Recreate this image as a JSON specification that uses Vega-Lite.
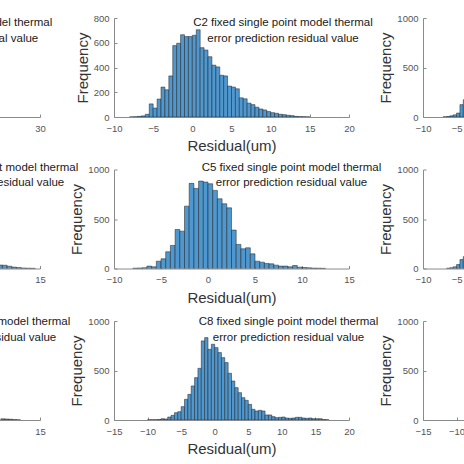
{
  "$schema": "https://vega.github.io/schema/vega-lite/v6.json",
  "background": "white",
  "autosize": {"type": "none"},
  "padding": {"left": -195, "top": 18, "right": 659, "bottom": 446},
  "bounds": "flush",
  "spacing": {"row": 52.5, "column": 74},
  "columns": 3,
  "data": {"values": [
    {"panel":"C2","start":-8,"end":-7.5,"count":1},{"panel":"C2","start":-7.5,"end":-7,"count":2},{"panel":"C2","start":-7,"end":-6.5,"count":5},{"panel":"C2","start":-6.5,"end":-6,"count":9},{"panel":"C2","start":-6,"end":-5.5,"count":22},{"panel":"C2","start":-5.5,"end":-5,"count":106},{"panel":"C2","start":-5,"end":-4.5,"count":72},{"panel":"C2","start":-4.5,"end":-4,"count":145},{"panel":"C2","start":-4,"end":-3.5,"count":242},{"panel":"C2","start":-3.5,"end":-3,"count":220},{"panel":"C2","start":-3,"end":-2.5,"count":332},{"panel":"C2","start":-2.5,"end":-2,"count":577},{"panel":"C2","start":-2,"end":-1.5,"count":596},{"panel":"C2","start":-1.5,"end":-1,"count":665},{"panel":"C2","start":-1,"end":-0.5,"count":650},{"panel":"C2","start":-0.5,"end":0,"count":650},{"panel":"C2","start":0,"end":0.5,"count":660},{"panel":"C2","start":0.5,"end":1,"count":705},{"panel":"C2","start":1,"end":1.5,"count":560},{"panel":"C2","start":1.5,"end":2,"count":541},{"panel":"C2","start":2,"end":2.5,"count":487},{"panel":"C2","start":2.5,"end":3,"count":419},{"panel":"C2","start":3,"end":3.5,"count":405},{"panel":"C2","start":3.5,"end":4,"count":337},{"panel":"C2","start":4,"end":4.5,"count":332},{"panel":"C2","start":4.5,"end":5,"count":250},{"panel":"C2","start":5,"end":5.5,"count":242},{"panel":"C2","start":5.5,"end":6,"count":228},{"panel":"C2","start":6,"end":6.5,"count":155},{"panel":"C2","start":6.5,"end":7,"count":147},{"panel":"C2","start":7,"end":7.5,"count":112},{"panel":"C2","start":7.5,"end":8,"count":100},{"panel":"C2","start":8,"end":8.5,"count":79},{"panel":"C2","start":8.5,"end":9,"count":65},{"panel":"C2","start":9,"end":9.5,"count":57},{"panel":"C2","start":9.5,"end":10,"count":44},{"panel":"C2","start":10,"end":10.5,"count":35},{"panel":"C2","start":10.5,"end":11,"count":30},{"panel":"C2","start":11,"end":11.5,"count":22},{"panel":"C2","start":11.5,"end":12,"count":19},{"panel":"C2","start":12,"end":12.5,"count":14},{"panel":"C2","start":12.5,"end":13,"count":11},{"panel":"C2","start":13,"end":13.5,"count":5},{"panel":"C2","start":13.5,"end":14,"count":3},{"panel":"C2","start":14,"end":14.5,"count":2},{"panel":"C2","start":14.5,"end":15,"count":1},
    {"panel":"C5","start":-8,"end":-7.5,"count":3},{"panel":"C5","start":-7.5,"end":-7,"count":5},{"panel":"C5","start":-7,"end":-6.5,"count":8},{"panel":"C5","start":-6.5,"end":-6,"count":24},{"panel":"C5","start":-6,"end":-5.5,"count":17},{"panel":"C5","start":-5.5,"end":-5,"count":74},{"panel":"C5","start":-5,"end":-4.5,"count":98},{"panel":"C5","start":-4.5,"end":-4,"count":169},{"panel":"C5","start":-4,"end":-3.5,"count":233},{"panel":"C5","start":-3.5,"end":-3,"count":394},{"panel":"C5","start":-3,"end":-2.5,"count":377},{"panel":"C5","start":-2.5,"end":-2,"count":630},{"panel":"C5","start":-2,"end":-1.5,"count":860},{"panel":"C5","start":-1.5,"end":-1,"count":809},{"panel":"C5","start":-1,"end":-0.5,"count":883},{"panel":"C5","start":-0.5,"end":0,"count":873},{"panel":"C5","start":0,"end":0.5,"count":856},{"panel":"C5","start":0.5,"end":1,"count":789},{"panel":"C5","start":1,"end":1.5,"count":704},{"panel":"C5","start":1.5,"end":2,"count":654},{"panel":"C5","start":2,"end":2.5,"count":613},{"panel":"C5","start":2.5,"end":3,"count":388},{"panel":"C5","start":3,"end":3.5,"count":243},{"panel":"C5","start":3.5,"end":4,"count":199},{"panel":"C5","start":4,"end":4.5,"count":209},{"panel":"C5","start":4.5,"end":5,"count":148},{"panel":"C5","start":5,"end":5.5,"count":74},{"panel":"C5","start":5.5,"end":6,"count":64},{"panel":"C5","start":6,"end":6.5,"count":51},{"panel":"C5","start":6.5,"end":7,"count":47},{"panel":"C5","start":7,"end":7.5,"count":34},{"panel":"C5","start":7.5,"end":8,"count":24},{"panel":"C5","start":8,"end":8.5,"count":24},{"panel":"C5","start":8.5,"end":9,"count":17},{"panel":"C5","start":9,"end":9.5,"count":30},{"panel":"C5","start":9.5,"end":10,"count":13},{"panel":"C5","start":10,"end":10.5,"count":10},{"panel":"C5","start":10.5,"end":11,"count":7},{"panel":"C5","start":11,"end":11.5,"count":4},{"panel":"C5","start":11.5,"end":12,"count":3},{"panel":"C5","start":12,"end":12.5,"count":2},
    {"panel":"C8","start":-10,"end":-9.5,"count":2},{"panel":"C8","start":-9.5,"end":-9,"count":3},{"panel":"C8","start":-9,"end":-8.5,"count":3},{"panel":"C8","start":-8.5,"end":-8,"count":5},{"panel":"C8","start":-8,"end":-7.5,"count":13},{"panel":"C8","start":-7.5,"end":-7,"count":10},{"panel":"C8","start":-7,"end":-6.5,"count":30},{"panel":"C8","start":-6.5,"end":-6,"count":47},{"panel":"C8","start":-6,"end":-5.5,"count":74},{"panel":"C8","start":-5.5,"end":-5,"count":84},{"panel":"C8","start":-5,"end":-4.5,"count":135},{"panel":"C8","start":-4.5,"end":-4,"count":209},{"panel":"C8","start":-4,"end":-3.5,"count":259},{"panel":"C8","start":-3.5,"end":-3,"count":344},{"panel":"C8","start":-3,"end":-2.5,"count":428},{"panel":"C8","start":-2.5,"end":-2,"count":522},{"panel":"C8","start":-2,"end":-1.5,"count":799},{"panel":"C8","start":-1.5,"end":-1,"count":832},{"panel":"C8","start":-1,"end":-0.5,"count":714},{"panel":"C8","start":-0.5,"end":0,"count":765},{"panel":"C8","start":0,"end":0.5,"count":731},{"panel":"C8","start":0.5,"end":1,"count":681},{"panel":"C8","start":1,"end":1.5,"count":630},{"panel":"C8","start":1.5,"end":2,"count":580},{"panel":"C8","start":2,"end":2.5,"count":472},{"panel":"C8","start":2.5,"end":3,"count":394},{"panel":"C8","start":3,"end":3.5,"count":327},{"panel":"C8","start":3.5,"end":4,"count":276},{"panel":"C8","start":4,"end":4.5,"count":226},{"panel":"C8","start":4.5,"end":5,"count":199},{"panel":"C8","start":5,"end":5.5,"count":158},{"panel":"C8","start":5.5,"end":6,"count":108},{"panel":"C8","start":6,"end":6.5,"count":91},{"panel":"C8","start":6.5,"end":7,"count":98},{"panel":"C8","start":7,"end":7.5,"count":91},{"panel":"C8","start":7.5,"end":8,"count":51},{"panel":"C8","start":8,"end":8.5,"count":51},{"panel":"C8","start":8.5,"end":9,"count":34},{"panel":"C8","start":9,"end":9.5,"count":24},{"panel":"C8","start":9.5,"end":10,"count":27},{"panel":"C8","start":10,"end":10.5,"count":30},{"panel":"C8","start":10.5,"end":11,"count":20},{"panel":"C8","start":11,"end":11.5,"count":17},{"panel":"C8","start":11.5,"end":12,"count":20},{"panel":"C8","start":12,"end":12.5,"count":27},{"panel":"C8","start":12.5,"end":13,"count":27},{"panel":"C8","start":13,"end":13.5,"count":20},{"panel":"C8","start":13.5,"end":14,"count":17},{"panel":"C8","start":14,"end":14.5,"count":20},{"panel":"C8","start":14.5,"end":15,"count":13},{"panel":"C8","start":15,"end":15.5,"count":13},{"panel":"C8","start":15.5,"end":16,"count":13},{"panel":"C8","start":16,"end":16.5,"count":5},{"panel":"C8","start":16.5,"end":17,"count":3},
    {"panel":"C3","start":-7,"end":-6.5,"count":2},{"panel":"C3","start":-6.5,"end":-6,"count":5},{"panel":"C3","start":-6,"end":-5.5,"count":12},{"panel":"C3","start":-5.5,"end":-5,"count":22},{"panel":"C3","start":-5,"end":-4.5,"count":40},{"panel":"C3","start":-4.5,"end":-4,"count":125},{"panel":"C3","start":-4,"end":-3.5,"count":175},
    {"panel":"C6","start":-6.5,"end":-6,"count":3},{"panel":"C6","start":-6,"end":-5.5,"count":8},{"panel":"C6","start":-5.5,"end":-5,"count":17},{"panel":"C6","start":-5,"end":-4.5,"count":40},{"panel":"C6","start":-4.5,"end":-4,"count":90},{"panel":"C6","start":-4,"end":-3.5,"count":120},
    {"panel":"C4","start":10.5,"end":11,"count":35},{"panel":"C4","start":11,"end":11.5,"count":33},{"panel":"C4","start":11.5,"end":12,"count":23},{"panel":"C4","start":12,"end":12.5,"count":14},{"panel":"C4","start":12.5,"end":13,"count":9},{"panel":"C4","start":13,"end":13.5,"count":5},{"panel":"C4","start":13.5,"end":14,"count":3},{"panel":"C4","start":14,"end":14.5,"count":2},
    {"panel":"C7","start":10,"end":10.5,"count":12},{"panel":"C7","start":10.5,"end":11,"count":10},{"panel":"C7","start":11,"end":11.5,"count":8},{"panel":"C7","start":11.5,"end":12,"count":4},{"panel":"C7","start":12,"end":12.5,"count":2}
  ]},
  "concat": [
    {"width": 235, "height": 99,
     "title": {"text": ["C1 fixed single point model thermal", "error prediction residual value"], "dx": 40, "offset": -31},
     "transform": [{"filter": "datum.panel === 'C1'"}],
     "mark": {"type": "rect", "clip": true},
     "encoding": {
       "x": {"field": "start", "type": "quantitative", "scale": {"domain": [-10, 30]}, "axis": {"values": [-10, 0, 10, 20, 30], "title": "Residual(um)"}},
       "x2": {"field": "end"},
       "y": {"field": "count", "type": "quantitative", "scale": {"domain": [0, 1000]}, "axis": {"values": [0, 500, 1000], "format": "d", "title": "Frequency"}},
       "y2": {"datum": 0}
     }},
    {"width": 235, "height": 99,
     "title": {"text": ["C2 fixed single point model thermal", "error prediction residual value"], "dx": 51.5, "offset": -31},
     "transform": [{"filter": "datum.panel === 'C2'"}],
     "mark": {"type": "rect", "clip": true},
     "encoding": {
       "x": {"field": "start", "type": "quantitative", "scale": {"domain": [-10, 20]}, "axis": {"values": [-10, -5, 0, 5, 10, 15, 20], "title": "Residual(um)"}},
       "x2": {"field": "end"},
       "y": {"field": "count", "type": "quantitative", "scale": {"domain": [0, 800]}, "axis": {"values": [0, 200, 400, 600, 800], "format": "d", "title": "Frequency"}},
       "y2": {"datum": 0}
     }},
    {"width": 235, "height": 99,
     "title": {"text": ["C3 fixed single point model thermal", "error prediction residual value"], "dx": 51.5, "offset": -31},
     "transform": [{"filter": "datum.panel === 'C3'"}],
     "mark": {"type": "rect", "clip": true},
     "encoding": {
       "x": {"field": "start", "type": "quantitative", "scale": {"domain": [-10, 25]}, "axis": {"values": [-10, -5, 0, 5, 10, 15, 20, 25], "title": "Residual(um)"}},
       "x2": {"field": "end"},
       "y": {"field": "count", "type": "quantitative", "scale": {"domain": [0, 1000]}, "axis": {"values": [0, 500, 1000], "format": "d", "title": "Frequency"}},
       "y2": {"datum": 0}
     }},
    {"width": 235, "height": 99,
     "title": {"text": ["C4 fixed single point model thermal", "error prediction residual value"], "dx": 66, "offset": -24},
     "transform": [{"filter": "datum.panel === 'C4'"}],
     "mark": {"type": "rect", "clip": true},
     "encoding": {
       "x": {"field": "start", "type": "quantitative", "scale": {"domain": [-10, 15]}, "axis": {"values": [-10, -5, 0, 5, 10, 15], "title": "Residual(um)"}},
       "x2": {"field": "end"},
       "y": {"field": "count", "type": "quantitative", "scale": {"domain": [0, 1000]}, "axis": {"values": [0, 500, 1000], "format": "d", "title": "Frequency"}},
       "y2": {"datum": 0}
     }},
    {"width": 235, "height": 99,
     "title": {"text": ["C5 fixed single point model thermal", "error prediction residual value"], "dx": 60, "offset": -24},
     "transform": [{"filter": "datum.panel === 'C5'"}],
     "mark": {"type": "rect", "clip": true},
     "encoding": {
       "x": {"field": "start", "type": "quantitative", "scale": {"domain": [-10, 15]}, "axis": {"values": [-10, -5, 0, 5, 10, 15], "title": "Residual(um)"}},
       "x2": {"field": "end"},
       "y": {"field": "count", "type": "quantitative", "scale": {"domain": [0, 1000]}, "axis": {"values": [0, 500, 1000], "format": "d", "title": "Frequency"}},
       "y2": {"datum": 0}
     }},
    {"width": 235, "height": 99,
     "title": {"text": ["C6 fixed single point model thermal", "error prediction residual value"], "dx": 60, "offset": -24},
     "transform": [{"filter": "datum.panel === 'C6'"}],
     "mark": {"type": "rect", "clip": true},
     "encoding": {
       "x": {"field": "start", "type": "quantitative", "scale": {"domain": [-10, 25]}, "axis": {"values": [-10, -5, 0, 5, 10, 15, 20, 25], "title": "Residual(um)"}},
       "x2": {"field": "end"},
       "y": {"field": "count", "type": "quantitative", "scale": {"domain": [0, 1000]}, "axis": {"values": [0, 500, 1000], "format": "d", "title": "Frequency"}},
       "y2": {"datum": 0}
     }},
    {"width": 235, "height": 99,
     "title": {"text": ["C7 fixed single point model thermal", "error prediction residual value"], "dx": 58, "offset": -27},
     "transform": [{"filter": "datum.panel === 'C7'"}],
     "mark": {"type": "rect", "clip": true},
     "encoding": {
       "x": {"field": "start", "type": "quantitative", "scale": {"domain": [-15, 15]}, "axis": {"values": [-15, 0, 15], "title": "Residual(um)"}},
       "x2": {"field": "end"},
       "y": {"field": "count", "type": "quantitative", "scale": {"domain": [0, 1000]}, "axis": {"values": [0, 500, 1000], "format": "d", "title": "Frequency"}},
       "y2": {"datum": 0}
     }},
    {"width": 235, "height": 99,
     "title": {"text": ["C8 fixed single point model thermal", "error prediction residual value"], "dx": 57, "offset": -27},
     "transform": [{"filter": "datum.panel === 'C8'"}],
     "mark": {"type": "rect", "clip": true},
     "encoding": {
       "x": {"field": "start", "type": "quantitative", "scale": {"domain": [-15, 20]}, "axis": {"values": [-15, -10, -5, 0, 5, 10, 15, 20], "title": "Residual(um)"}},
       "x2": {"field": "end"},
       "y": {"field": "count", "type": "quantitative", "scale": {"domain": [0, 1000]}, "axis": {"values": [0, 500, 1000], "format": "d", "title": "Frequency"}},
       "y2": {"datum": 0}
     }},
    {"width": 235, "height": 99,
     "title": {"text": ["C9 fixed single point model thermal", "error prediction residual value"], "dx": 57, "offset": -27},
     "transform": [{"filter": "datum.panel === 'C9'"}],
     "mark": {"type": "rect", "clip": true},
     "encoding": {
       "x": {"field": "start", "type": "quantitative", "scale": {"domain": [-15, 20]}, "axis": {"values": [-15, -10, -5, 0, 5, 10, 15, 20], "title": "Residual(um)"}},
       "x2": {"field": "end"},
       "y": {"field": "count", "type": "quantitative", "scale": {"domain": [0, 1000]}, "axis": {"values": [0, 500, 1000], "format": "d", "title": "Frequency"}},
       "y2": {"datum": 0}
     }}
  ],
  "config": {
    "font": "Liberation Sans",
    "view": {"stroke": null},
    "rect": {"fill": "#4f97cf", "stroke": "#1e1e1e", "strokeWidth": 0.5},
    "title": {"font": "Liberation Sans", "fontSize": 11.5, "fontWeight": "normal", "color": "#1a1a1a", "anchor": "middle", "frame": "group", "lineHeight": 15.5},
    "axis": {
      "grid": false,
      "domainColor": "#8a8a8a", "domainWidth": 1,
      "tickColor": "#8a8a8a", "tickSize": -3, "tickWidth": 1,
      "labelFont": "Liberation Sans", "labelFontSize": 9.5, "labelColor": "#555555",
      "labelFlush": false, "labelOverlap": false,
      "titleFont": "Liberation Sans", "titleFontSize": 15, "titleFontWeight": "normal", "titleColor": "#333333"
    },
    "axisX": {"labelPadding": 9, "titlePadding": 6},
    "axisY": {"labelPadding": 8, "titlePadding": 3}
  }
}
